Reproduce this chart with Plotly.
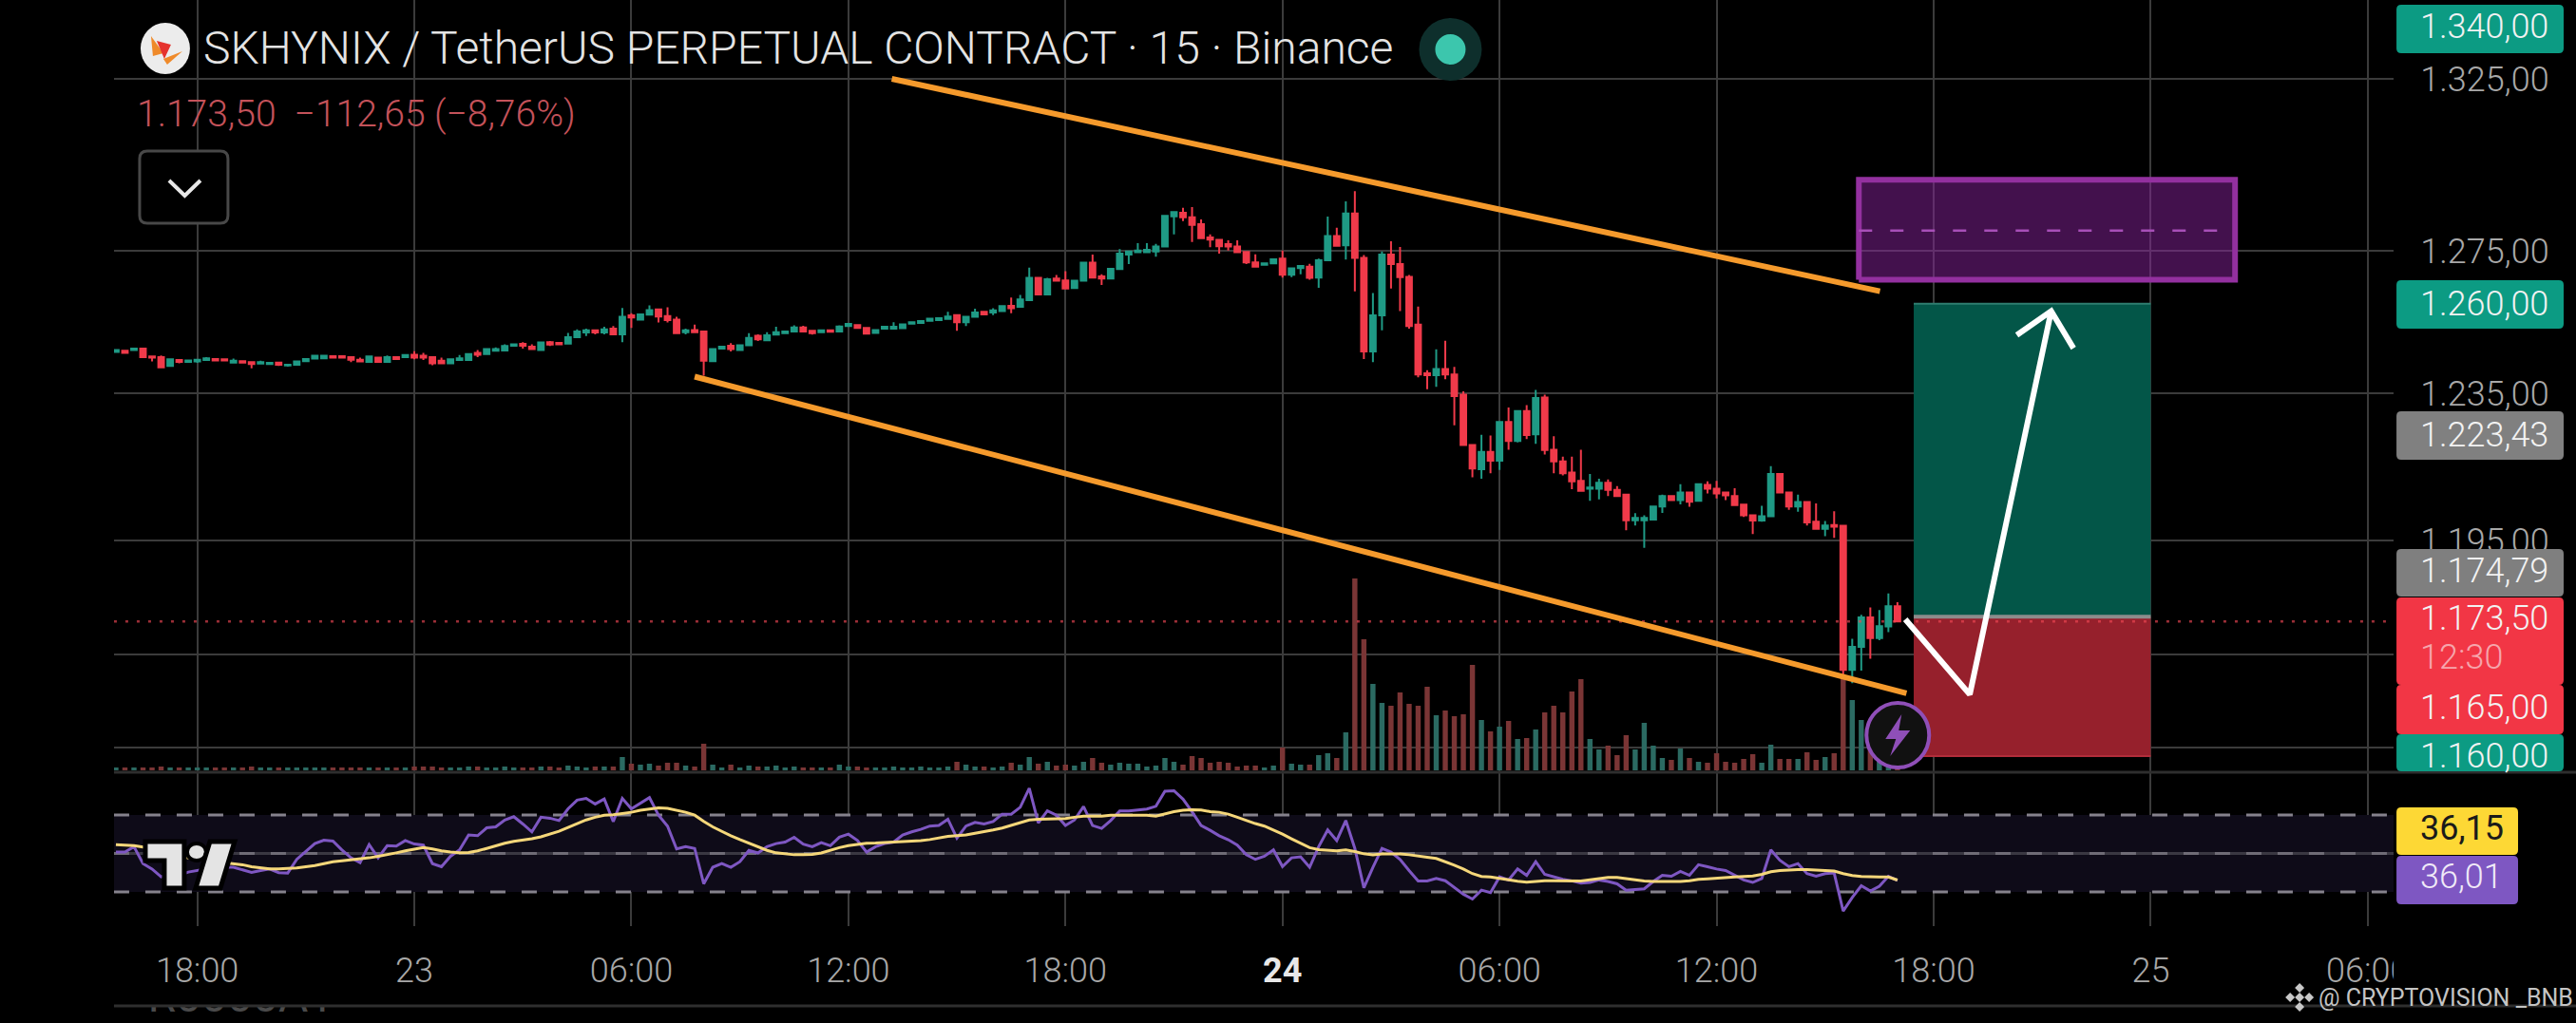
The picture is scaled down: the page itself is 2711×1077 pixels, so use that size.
import pandas as pd
import plotly.graph_objects as go

W, H = 2711, 1077
FIG_W = 2726

opens = [
1246.5,1246.8,1247.0,1247.4,1245.2,1245.0,1242.6,1244.2,1243.7,1243.8,
1244.2,1244.5,1244.4,1243.5,1243.9,1243.6,1243.2,1243.1,1243.5,1242.7,
1242.9,1243.9,1244.6,1244.7,1245.3,1245.3,1245.0,1244.3,1243.7,1244.9,
1243.7,1245.0,1245.0,1245.7,1245.4,1245.0,1244.0,1243.3,1244.2,1244.2,
1246.2,1245.9,1246.8,1246.9,1248.2,1248.7,1247.9,1247.0,1249.2,1249.0,
1248.8,1250.6,1251.9,1252.5,1251.9,1253.0,1251.4,1256.7,1255.5,1256.9,
1258.4,1256.5,1255.5,1252.0,1252.6,1252.2,1243.9,1247.4,1248.2,1247.0,
1248.3,1251.0,1249.7,1251.3,1251.7,1252.2,1253.3,1252.4,1252.0,1252.5,
1252.2,1253.7,1254.0,1253.2,1251.8,1253.0,1253.0,1253.1,1254.4,1254.6,
1255.2,1255.4,1255.7,1256.8,1254.8,1256.3,1257.7,1257.5,1257.9,1259.4,
1259.1,1261.0,1267.3,1262.6,1267.1,1266.6,1264.4,1266.5,1271.6,1267.7,
1267.1,1269.8,1273.9,1274.6,1274.6,1274.8,1276.2,1284.9,1285.9,1284.6,
1282.6,1278.8,1278.1,1276.9,1276.2,1274.7,1271.7,1271.0,1271.4,1272.8,
1268.2,1270.1,1270.5,1267.4,1272.3,1279.2,1276.6,1285.7,1273.0,1246.6,
1256.7,1273.9,1271.2,1267.6,1254.1,1240.5,1240.0,1241.7,1240.2,1234.6,
1220.8,1214.2,1218.9,1216.5,1227.1,1221.9,1230.1,1223.7,1233.8,1219.5,
1216.3,1213.3,1211.0,1208.9,1208.9,1210.5,1208.6,1207.3,1200.4,1200.4,
1200.6,1204.1,1206.9,1205.8,1207.9,1205.6,1209.9,1208.9,1207.9,1206.9,
1204.6,1201.7,1200.3,1201.5,1212.9,1207.9,1204.1,1205.3,1200.0,1198.1,
1199.1,1198.9,1160.9,1166.9,1174.6,1169.2,1172.2,1177.5]

highs = [
1247.3,1247.0,1247.5,1247.6,1245.3,1245.5,1244.5,1244.3,1244.2,1244.4,
1245.0,1244.6,1244.5,1244.6,1244.0,1243.8,1244.0,1243.5,1243.6,1243.0,
1243.8,1244.6,1245.5,1245.5,1245.4,1245.4,1245.1,1244.9,1245.4,1245.1,
1245.5,1245.1,1245.7,1246.7,1246.2,1245.2,1244.9,1244.4,1245.6,1246.0,
1247.0,1247.4,1247.7,1248.6,1248.7,1249.2,1248.6,1249.1,1249.5,1249.1,
1251.8,1252.8,1253.0,1252.6,1253.5,1253.7,1258.8,1257.3,1257.1,1259.5,
1258.5,1259.0,1256.3,1253.0,1254.1,1252.4,1247.3,1247.9,1248.9,1248.4,
1251.7,1251.4,1252.0,1253.5,1252.3,1253.9,1253.8,1252.5,1252.6,1252.6,
1253.9,1254.6,1254.1,1253.3,1252.7,1253.6,1254.8,1254.3,1254.9,1255.1,
1255.9,1255.9,1257.7,1257.0,1256.6,1258.6,1257.8,1258.7,1259.4,1261.7,
1262.5,1270.2,1267.4,1267.3,1268.1,1269.2,1266.5,1271.7,1273.9,1268.3,
1270.0,1275.5,1275.0,1277.2,1277.2,1277.0,1285.2,1286.3,1287.3,1287.5,
1284.0,1279.7,1278.2,1278.0,1278.0,1274.8,1274.0,1271.4,1272.7,1275.1,
1270.1,1270.7,1271.3,1272.8,1284.8,1281.6,1289.2,1292.1,1273.8,1263.0,
1274.8,1277.7,1276.1,1268.1,1259.2,1241.4,1247.2,1249.6,1242.3,1235.5,
1221.0,1223.6,1223.4,1227.2,1231.1,1230.2,1231.7,1235.9,1234.6,1223.2,
1217.6,1217.6,1219.5,1212.9,1211.6,1211.4,1209.6,1207.5,1202.3,1201.7,
1204.2,1207.3,1207.1,1210.1,1208.1,1210.2,1210.9,1211.0,1208.1,1209.0,
1204.8,1201.9,1204.3,1215.0,1213.0,1208.0,1207.3,1205.4,1204.9,1200.2,
1202.8,1199.0,1169.0,1175.3,1177.2,1176.5,1180.9,1178.6]

lows = [
1246.3,1246.0,1246.9,1245.0,1243.8,1242.2,1242.4,1243.3,1243.6,1243.4,
1244.1,1243.8,1244.0,1243.4,1243.4,1241.9,1243.1,1243.0,1242.6,1242.4,
1242.9,1243.8,1244.5,1244.6,1244.8,1244.8,1243.6,1243.7,1243.6,1243.7,
1243.6,1244.4,1244.9,1244.4,1244.2,1242.8,1243.2,1243.2,1244.1,1244.1,
1245.0,1245.8,1246.7,1246.8,1248.1,1247.4,1247.2,1246.9,1248.1,1248.5,
1248.7,1250.5,1250.9,1251.4,1251.4,1251.4,1249.2,1253.2,1255.4,1256.8,
1254.7,1254.7,1251.7,1251.4,1252.0,1239.9,1243.8,1247.3,1246.6,1246.9,
1248.2,1249.5,1249.6,1251.2,1251.6,1252.1,1252.1,1251.3,1251.9,1252.0,
1252.1,1253.6,1253.1,1251.4,1251.7,1252.9,1252.9,1253.0,1254.3,1254.5,
1255.1,1255.3,1255.6,1252.4,1253.7,1256.2,1256.9,1256.8,1257.8,1257.3,
1259.0,1260.9,1262.6,1262.5,1266.4,1264.3,1264.3,1266.4,1267.3,1265.3,
1267.0,1269.7,1271.2,1274.5,1274.5,1273.3,1276.1,1279.7,1283.5,1277.5,
1278.6,1276.0,1274.2,1275.1,1274.5,1271.2,1270.4,1270.8,1271.3,1267.4,
1267.5,1268.3,1266.8,1264.5,1272.2,1276.3,1272.5,1263.5,1244.5,1243.6,
1252.5,1264.3,1257.9,1253.0,1239.4,1236.1,1236.8,1238.9,1226.2,1220.5,
1212.0,1211.6,1213.1,1214.0,1219.5,1221.5,1222.4,1221.1,1218.2,1213.1,
1212.5,1208.8,1208.2,1205.6,1206.0,1206.9,1206.7,1197.7,1199.0,1193.0,
1200.4,1202.4,1205.6,1204.7,1204.0,1205.5,1207.6,1206.3,1205.8,1204.3,
1201.3,1196.7,1200.0,1201.4,1207.9,1203.2,1202.7,1199.0,1198.1,1196.1,
1195.7,1158.5,1157.4,1160.7,1163.8,1168.6,1170.7,1173.5]

closes = [
1247.0,1246.2,1247.4,1245.0,1244.9,1242.2,1244.4,1243.7,1244.1,1244.3,
1244.7,1244.1,1244.1,1244.0,1243.5,1243.1,1243.6,1243.4,1242.9,1242.9,
1243.8,1244.5,1245.4,1245.4,1244.9,1244.9,1244.3,1243.8,1245.2,1243.7,
1245.0,1244.5,1245.6,1244.9,1244.9,1243.3,1243.3,1244.4,1244.7,1245.9,
1245.7,1247.3,1247.3,1248.1,1248.6,1248.2,1247.3,1249.1,1248.5,1248.6,
1250.6,1252.2,1252.5,1251.9,1252.8,1251.4,1256.3,1256.1,1257.0,1258.2,
1256.4,1255.4,1251.7,1252.5,1252.0,1244.0,1247.3,1247.9,1247.3,1248.3,
1250.4,1250.0,1251.1,1252.0,1252.2,1253.3,1252.2,1251.7,1252.5,1252.1,
1253.6,1254.3,1253.2,1251.6,1252.6,1253.5,1253.5,1254.2,1254.8,1255.1,
1255.8,1255.9,1256.4,1254.8,1256.3,1257.5,1257.0,1258.1,1259.3,1258.7,
1261.2,1267.3,1262.6,1266.9,1266.5,1264.3,1266.5,1271.6,1267.4,1267.1,
1269.9,1274.2,1274.8,1275.1,1275.3,1276.2,1285.0,1286.1,1284.6,1282.4,
1278.6,1278.2,1276.3,1276.2,1274.6,1271.7,1270.5,1271.4,1272.6,1268.2,
1270.0,1270.7,1267.3,1272.3,1279.2,1276.4,1285.7,1273.0,1246.6,1256.7,
1273.9,1271.2,1267.5,1253.7,1240.2,1240.0,1241.7,1240.2,1234.2,1220.8,
1214.4,1218.9,1216.5,1227.1,1221.9,1230.1,1223.5,1233.7,1219.4,1216.3,
1213.1,1210.9,1208.3,1209.2,1210.5,1208.6,1206.9,1200.4,1201.0,1201.0,
1204.1,1206.9,1205.8,1207.9,1205.4,1210.1,1208.9,1207.6,1207.1,1204.5,
1201.7,1200.3,1201.5,1212.9,1207.9,1204.1,1205.3,1199.8,1198.1,1199.0,
1198.7,1160.9,1166.9,1174.6,1169.2,1172.3,1177.5,1173.5]

volumes = [
3,3,3,3,3,4,3,3,3,3, 3,3,3,3,3,4,3,3,3,3, 3,3,3,3,3,3,3,3,3,3,
3,3,3,4,4,4,3,3,3,4, 4,3,3,4,3,3,3,4,4,3, 5,4,3,4,4,4,14,7,6,7,
5,8,8,5,4,28,6,3,6,3, 5,4,4,5,3,4,3,3,3,3, 6,4,4,3,3,3,4,3,3,4,
3,3,4,9,6,4,4,3,4,8, 6,14,7,9,5,6,5,9,13,8, 6,8,7,7,4,5,13,9,6,15,
13,8,9,8,4,5,5,3,5,24, 7,6,6,16,18,13,40,202,138,91,
71,68,82,70,68,88,58,63,57,59, 111,53,41,46,52,33,34,43,61,68,
61,83,96,33,22,26,16,37,22,50, 26,13,11,23,13,9,8,18,9,8,
12,17,8,27,12,12,12,19,11,14, 18,98,74,53,40,15,8,4]

rsi = [
50.7,50.7,53.5,44.7,41.9,37.8,39.5,38.6,40.3,41.1,
41.9,42.3,42.8,42.8,41.6,40.1,41.1,41.9,40.0,39.8,
46.9,51.0,55.1,56.9,56.4,51.8,47.7,45.2,54.6,47.7,
54.0,53.8,56.7,54.9,54.3,44.7,43.1,48.5,51.8,59.6,
59.2,63.3,63.8,67.4,69.1,65.3,61.2,68.8,68.3,67.1,
73.2,77.7,78.6,75.7,78.3,66.6,78.6,73.2,76.0,79.0,
69.9,64.2,52.3,53.5,52.6,34.2,42.8,44.7,42.8,45.7,
51.6,50.2,53.5,55.1,55.9,58.4,54.8,53.5,55.6,54.0,
58.4,60.0,56.7,50.7,53.5,55.1,55.9,59.6,61.2,62.5,
64.2,64.5,67.8,57.9,64.2,66.1,65.3,66.6,70.4,70.4,
74.0,83.9,65.8,72.1,69.9,64.5,67.4,74.4,64.5,63.0,
67.1,72.1,72.1,72.7,73.1,74.5,82.3,82.6,78.2,71.6,
64.5,62.0,59.2,57.1,54.3,49.3,46.9,48.5,51.8,43.2,
47.7,48.2,42.8,53.5,62.2,56.7,67.1,52.6,32.1,42.8,
52.6,50.7,46.9,41.1,35.7,35.7,37.0,35.8,32.1,28.8,
26.3,30.9,29.6,37.8,36.2,41.9,38.6,45.7,39.1,37.8,
36.5,35.7,34.5,34.9,36.2,35.4,34.2,30.9,31.2,31.6,
35.4,38.6,38.1,40.6,38.6,44.1,43.1,41.9,41.1,38.6,
36.2,34.9,37.0,51.8,46.4,43.1,44.7,39.5,38.1,39.5,
39.8,20.0,27.1,33.2,30.4,32.9,38.1,36.01]

rsi_ma = [
54.6,54.3,54.0,53.3,52.3,50.7,49.3,48.4,47.7,46.9,
46.4,45.7,45.2,44.7,44.1,43.1,42.4,41.9,41.9,42.1,
42.4,43.1,43.7,44.7,45.7,46.2,46.7,47.0,47.7,48.5,
49.3,50.3,51.3,52.1,53.0,52.3,51.3,50.7,50.3,50.5,
51.3,52.6,54.0,55.3,56.3,56.9,57.6,58.6,59.9,61.5,
63.5,65.5,67.4,68.8,69.8,70.1,70.7,71.4,72.4,73.2,
73.7,73.4,72.4,71.4,69.9,66.6,63.8,61.4,59.2,57.2,
55.3,53.6,51.6,50.3,49.7,49.3,49.3,49.5,50.2,51.6,
53.0,54.0,54.8,55.3,55.4,55.6,55.8,55.9,56.3,56.6,
57.2,58.1,58.9,59.2,59.6,60.5,61.2,62.2,63.2,64.5,
66.1,67.4,67.8,67.8,68.1,68.1,68.8,69.4,69.4,69.4,
69.8,69.9,69.9,70.1,69.9,69.4,70.7,71.7,72.4,72.7,
72.6,71.7,71.4,70.4,68.8,67.1,65.5,64.2,62.2,60.0,
57.6,55.1,53.0,52.0,51.6,51.3,51.8,51.0,49.8,49.3,
49.7,49.7,49.7,49.3,48.5,48.0,47.4,45.7,43.9,41.9,
39.5,38.0,37.7,37.0,36.2,35.5,35.0,35.5,35.8,35.8,
35.8,35.7,35.7,36.3,37.0,37.5,37.5,36.8,36.2,35.7,
35.4,35.4,35.4,35.4,35.8,36.5,36.8,37.2,37.5,37.7,
38.0,38.3,39.1,40.5,41.1,41.4,41.6,41.6,41.4,41.3,
40.8,39.5,38.5,38.0,37.7,37.7,37.7,36.15]

times = pd.date_range("2026-05-22 15:45", periods=len(opens), freq="15min")
x_start, x_end = "2026-05-22 15:41:50", "2026-05-25 06:43:00"

x_tick_vals = ["2026-05-22 18:00", "2026-05-23 00:00", "2026-05-23 06:00", "2026-05-23 12:00",
               "2026-05-23 18:00", "2026-05-24 00:00", "2026-05-24 06:00", "2026-05-24 12:00",
               "2026-05-24 18:00", "2026-05-25 00:00", "2026-05-25 06:00"]
x_tick_text = ["18:00", "23", "06:00", "12:00", "18:00",
               "<b style='color:#e8e8e8'>24</b>", "06:00", "12:00", "18:00", "25", "06:00"]
y_tick_vals = [1325, 1275, 1235, 1195, 1165, 1141]
y_tick_text = ["1.325,00", "1.275,00", "1.235,00", "1.195,00", "", ""]

upper_line_x = ["2026-05-23 13:12", "2026-05-24 16:31"]
upper_line_y = [1325, 1263.5]
lower_line_x = ["2026-05-23 07:45", "2026-05-24 17:15"]
lower_line_y = [1239.6, 1154.8]
zig_x = ["2026-05-24 17:13", "2026-05-24 19:00", "2026-05-24 21:15"]
zig_y = [1174.1, 1154.5, 1257.9]
head_x = ["2026-05-24 20:18", "2026-05-24 21:15", "2026-05-24 21:52"]
head_y = [1251.2, 1257.9, 1247.5]

zone_x = ["2026-05-24 15:56", "2026-05-25 02:20"]
zone_y = [1266.8, 1295.4]
zone_mid = 1280.8
pos_x = ["2026-05-24 17:27", "2026-05-25 00:00"]
target_price, entry_price, stop_price = 1260.0, 1174.79, 1138.7
last_price = 1173.5

label_boxes = [
    (5, 56, "#0c9b83", "1.340,00", 28), (295, 346, "#0c9b83", "1.260,00", 320),
    (433, 484, "#808080", "1.223,43", 458), (578, 628, "#7f7f7f", "1.174,79", 601),
    (629, 721, "#f23645", "1.173,50", 651), (721, 773, "#f23645", "1.165,00", 745),
    (773, 812, "#0c9b83", "1.160,00", 796),
]

UI = "Roboto"
GRID = "#3b3b3b"
def px(v): return v / W
def py(v): return 1 - v / H

def rrect(x0, y0, x1, y1, r):
    a, b, c, d = px(x0), py(y0), px(x1), py(y1)
    rx, ry = r / W, r / H
    return (f"M{a+rx},{b} L{c-rx},{b} Q{c},{b} {c},{b-ry} L{c},{d+ry} Q{c},{d} {c-rx},{d} "
            f"L{a+rx},{d} Q{a},{d} {a},{d+ry} L{a},{b-ry} Q{a},{b} {a+rx},{b} Z")

def poly(pts):
    return "M" + " L".join(f"{px(a)},{py(b)}" for a, b in pts) + " Z"

def pshape(path, fill, line="rgba(0,0,0,0)", width=0):
    return dict(type="path", xref="paper", yref="paper", path=path, fillcolor=fill,
                line=dict(color=line, width=width), layer="above")

def circ(cx, cy, rx, ry, fill, line="rgba(0,0,0,0)", width=0):
    return dict(type="circle", xref="paper", yref="paper", x0=px(cx - rx), x1=px(cx + rx),
                y0=py(cy - ry), y1=py(cy + ry), fillcolor=fill,
                line=dict(color=line, width=width), layer="above")

def hline(y, x0, x1, color, width):
    return dict(type="line", xref="paper", yref="paper", x0=px(x0), x1=px(x1), y0=py(y), y1=py(y),
                line=dict(color=color, width=width), layer="above")

def ann(text, x, y, size, color, anchor="left", weight=300):
    return dict(text=text, x=px(x), y=py(y), xref="paper", yref="paper", xanchor=anchor, yanchor="middle",
                showarrow=False, font=dict(family=UI, size=size, color=color, weight=weight))

fig = go.Figure()

# volume sits on the lower overlay so candles draw over it
vol_colors = ["#2b6a62" if c >= o else "#7a3535" for o, c in zip(opens, closes)]
fig.add_trace(go.Bar(x=times, y=volumes, marker=dict(color=vol_colors, line_width=0), width=513000,
                     xaxis="x", yaxis="y"))

def rect_trace(x0, x1, y0, y1, fill, yaxis="y3"):
    return go.Scatter(x=[x0, x1, x1, x0, x0], y=[y0, y0, y1, y1, y0], mode="lines", fill="toself",
                      fillcolor=fill, line=dict(width=0), xaxis="x", yaxis=yaxis)

fig.add_trace(rect_trace(pos_x[0], pos_x[1], entry_price, target_price, "#035648"))
fig.add_trace(rect_trace(pos_x[0], pos_x[1], stop_price, entry_price, "#96202c"))
fig.add_trace(go.Scatter(x=pos_x, y=[target_price] * 2, mode="lines", line=dict(color="#2f7d6f", width=2), yaxis="y3"))
fig.add_trace(go.Scatter(x=pos_x, y=[entry_price] * 2, mode="lines", line=dict(color="#8c8c8c", width=4), yaxis="y3"))
fig.add_trace(go.Scatter(x=pos_x, y=[stop_price] * 2, mode="lines", line=dict(color="#b12d3a", width=2), yaxis="y3"))

fig.add_trace(go.Candlestick(x=times, open=opens, high=highs, low=lows, close=closes,
                             increasing=dict(line=dict(color="#1f9a85", width=2), fillcolor="#1f9a85"),
                             decreasing=dict(line=dict(color="#f03a4a", width=2), fillcolor="#f03a4a"),
                             whiskerwidth=0, xaxis="x", yaxis="y3"))

fig.add_trace(go.Scatter(x=[x_start, x_end], y=[last_price] * 2, mode="lines",
                         line=dict(color="rgba(240,70,85,0.65)", width=2.5, dash="3px,9px"), yaxis="y3"))
fig.add_trace(go.Scatter(x=upper_line_x, y=upper_line_y, mode="lines",
                         line=dict(color="#f59a2c", width=6), yaxis="y3"))
fig.add_trace(go.Scatter(x=lower_line_x, y=lower_line_y, mode="lines",
                         line=dict(color="#f59a2c", width=6), yaxis="y3"))
fig.add_trace(go.Scatter(x=[zone_x[0], zone_x[1], zone_x[1], zone_x[0], zone_x[0]],
                         y=[zone_y[0], zone_y[0], zone_y[1], zone_y[1], zone_y[0]], mode="lines", fill="toself",
                         fillcolor="rgba(140,35,160,0.48)", line=dict(color="#93309f", width=6), yaxis="y3"))
fig.add_trace(go.Scatter(x=zone_x, y=[zone_mid] * 2, mode="lines",
                         line=dict(color="#a84fb8", width=2.5, dash="14px,19px"), yaxis="y3"))
fig.add_trace(go.Scatter(x=zig_x, y=zig_y, mode="lines", line=dict(color="white", width=6), yaxis="y3"))
fig.add_trace(go.Scatter(x=head_x, y=head_y, mode="lines", line=dict(color="white", width=6), yaxis="y3"))

# RSI pane
fig.add_trace(rect_trace(x_start, x_end, 30, 70, "#0e0b18", yaxis="y2"))
fig.add_trace(go.Scatter(x=[x_start, x_end], y=[70, 70], mode="lines", yaxis="y2",
                         line=dict(color="#85828c", width=3, dash="16px,17px")))
fig.add_trace(go.Scatter(x=[x_start, x_end], y=[50, 50], mode="lines", yaxis="y2",
                         line=dict(color="#3a3842", width=3)))
fig.add_trace(go.Scatter(x=[x_start, x_end], y=[50, 50], mode="lines", yaxis="y2",
                         line=dict(color="#6f6c76", width=3, dash="16px,17px")))
fig.add_trace(go.Scatter(x=[x_start, x_end], y=[30, 30], mode="lines", yaxis="y2",
                         line=dict(color="#85828c", width=3, dash="16px,17px")))
fig.add_trace(go.Scatter(x=times, y=rsi, mode="lines", line=dict(color="#7e57c2", width=3), yaxis="y2"))
fig.add_trace(go.Scatter(x=times, y=rsi_ma, mode="lines", line=dict(color="#f5d77a", width=3), yaxis="y2"))

# cropped text under the bottom rule
fig.add_trace(go.Scatter(x=[0.0935], y=[0.02], mode="text", text=["R0000A1"], textposition="top center",
                         textfont=dict(family=UI, size=48, color="#4a4a4a"), xaxis="x4", yaxis="y4"))

shapes = [hline(813, 120, FIG_W, "#2e2e2e", 3), hline(1059, 120, FIG_W, "#2e2e2e", 3)]
shapes.append(dict(type="rect", xref="paper", yref="paper", x0=px(2520), x1=1, y0=py(1057), y1=py(977),
                   fillcolor="black", line_width=0, layer="above"))
for y0, y1, col, _, _ in label_boxes:
    shapes.append(pshape(rrect(2523, y0, 2699, y1, 5), col))
shapes.append(pshape(rrect(2523, 850, 2651, 900, 5), "#fdd835"))
shapes.append(pshape(rrect(2523, 901, 2651, 952, 5), "#7e57c2"))
# header marks
shapes.append(circ(174, 51, 26, 27, "#ececec"))
shapes.append(pshape(poly([(159, 38), (172, 56), (161, 59)]), "#ef8a2a"))
shapes.append(pshape(poly([(165, 43), (180, 47), (173, 62)]), "#e5322d"))
shapes.append(pshape(poly([(172, 62), (192, 54), (176, 68)]), "#ef8a2a"))
shapes.append(circ(1527, 52, 33, 33, "#0e2f2c"))
shapes.append(circ(1527, 52, 16, 16, "#3cc6ad"))
shapes.append(pshape(rrect(147, 159, 240, 235, 8), "black", "#484848", 3))
shapes.append(dict(type="path", xref="paper", yref="paper", layer="above",
                   path=f"M{px(178)},{py(190)} L{px(194.5)},{py(206)} L{px(211)},{py(190)}",
                   line=dict(color="#e8e8e8", width=4)))
# TradingView mark
shapes.append(pshape(poly([(153, 886), (194, 886), (194, 935), (173, 935), (173, 906), (153, 906)]), "#e4e4e4", "#000000", 5))
shapes.append(circ(207, 897, 10, 9, "#e4e4e4", "#000000", 4))
shapes.append(pshape(poly([(221, 886), (247, 886), (232, 935), (206, 935)]), "#e4e4e4", "#000000", 5))
# bolt badge
shapes.append(circ(1998, 774, 33, 34, "#111111", "#8f4fb8", 4))
shapes.append(pshape(poly([(2002, 752), (1985, 778), (1996, 778), (1990, 796), (2011, 769), (1999, 769)]), "#8f4fb8"))
# binance diamond
for dx, dy in [(0, -10), (-10, 0), (10, 0), (0, 10), (0, 0)]:
    cx, cy = 2421 + dx, 1050 + dy
    shapes.append(pshape(poly([(cx, cy - 5), (cx + 5, cy), (cx, cy + 5), (cx - 5, cy)]), "#c8c8c8"))

annotations = [
    ann("SKHYNIX / TetherUS PERPETUAL CONTRACT · 15 · Binance", 212, 51, 48, "#e4e4e4"),
    ann("1.173,50  −112,65 (−8,76%)", 142, 120, 39, "#c4525a"),
    ann("36,15", 2546, 872, 36, "#1a1a1a", weight=400),
    ann("36,01", 2546, 923, 36, "#f0eaf8"),
    ann("12:30", 2546, 692, 36, "#f6a5ac"),
    ann("@ CRYPTOVISION _BNB", 2439, 1050, 25, "#c4c4c4", weight=400),
]
for _, _, _, text, cy in label_boxes:
    annotations.append(ann(text, 2546, cy, 36, "#f2f2f2"))

axis_font = dict(family=UI, size=36, color="#a8a8a8", weight=300)
dom_x = [px(120), px(2520)]
fig.update_layout(
    width=FIG_W, height=H, margin=dict(l=0, r=0, t=0, b=0), autosize=False,
    paper_bgcolor="black", plot_bgcolor="black", showlegend=False, boxgap=0.12, hovermode=False,
    xaxis=dict(type="date", domain=dom_x, range=[x_start, x_end], anchor="y2", tickmode="array",
               tickvals=x_tick_vals, ticktext=x_tick_text, tickfont=axis_font, showgrid=True, gridcolor=GRID,
               gridwidth=2, zeroline=False, showline=False, ticks="outside", ticklen=15, tickcolor="black",
               rangeslider=dict(visible=False)),
    yaxis=dict(domain=[py(813), 1], range=[-2, 811], visible=False, showgrid=False, fixedrange=True),
    yaxis3=dict(domain=[py(813), 1], type="log", range=[3.05484, 3.12988], overlaying="y", anchor="x", side="right",
                tickmode="array", tickvals=y_tick_vals, ticktext=y_tick_text, tickfont=axis_font, showgrid=True,
                gridcolor=GRID, gridwidth=2, zeroline=False, showline=False, ticks="outside", ticklen=20,
                tickcolor="black"),
    yaxis2=dict(domain=[py(975), py(813)], range=[12.2, 92.2], visible=False, showgrid=False, anchor="x"),
    xaxis4=dict(domain=[0, 1], range=[0, 1], visible=False, anchor="y4"),
    yaxis4=dict(domain=[0, py(1060)], range=[0, 1], visible=False, anchor="x4"),
    shapes=shapes, annotations=annotations,
)

fig.write_html("out.html", config={"displayModeBar": False},
               post_script="document.body.style.margin='0';document.body.style.background='black';document.body.style.overflow='hidden';")
